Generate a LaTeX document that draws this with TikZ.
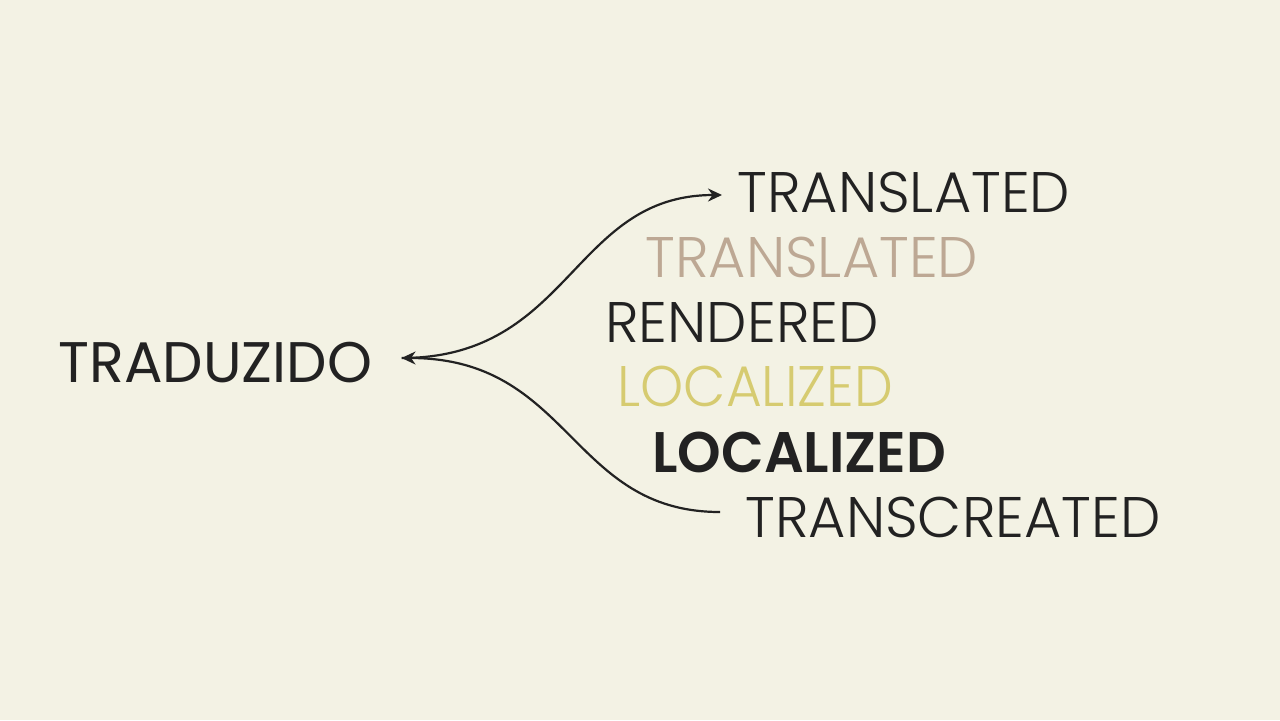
\documentclass[tikz,border=0pt]{standalone}
\usepackage{fontspec}
\setsansfont{Poppins}
\newfontfamily\thinfont{Poppins Light}
\newfontfamily\heavyfont{Poppins SemiBold}
\usetikzlibrary{arrows.meta}
\usetikzlibrary{positioning}
\definecolor{paper}{HTML}{F3F2E4}
\definecolor{ink}{HTML}{222222}
\definecolor{sand}{HTML}{BDA894}
\definecolor{mustard}{HTML}{D6CB70}
\tikzset{every picture/.style={/utils/exec={\sffamily}}}

\begin{document}
\begin{tikzpicture}[x=0.5pt,y=-0.5pt,
  word/.style={anchor=west, inner sep=0pt, text=ink, font=\thinfont\fontsize{28.6}{30}\selectfont},
  link/.style={draw=ink, line width=1.1pt, -{Stealth[length=7pt,width=6.5pt]}}]

  \fill[paper] (0,0) rectangle (1280,720);

  \node [word, font=\fontsize{28.6}{30}\selectfont] (trad) at (58,363) {TRADUZIDO};

  \node [word] (transl) at (737,192) {TRANSLATED};
  \node [word, text=sand] (translb) at (645,257) {TRANSLATED};
  \node [word] (rend) at (605,322) {RENDERED};
  \node [word, text=mustard, xscale=0.96] (loc) at (617,386) {LOCALIZED};
  \node [word, font=\heavyfont\fontsize{28.6}{30}\selectfont, xscale=0.97] (locb) at (652,452) {LOCALIZED};
  \node [word] (transc) at (745,517) {TRANSCREATED};

  \coordinate (hub) at ([xshift=14.5pt,yshift=2.5pt]trad.east);
  \coordinate (tail) at ([xshift=-12.5pt,yshift=2.5pt]transc.west);

  \draw [link] (hub) .. controls +(170,0) and +(-150,0) .. ([xshift=-7.5pt,yshift=-1.5pt]transl.west);
  \draw [link] (tail) .. controls +(-150,0) and +(170,0) .. (hub);

\end{tikzpicture}
\end{document}
